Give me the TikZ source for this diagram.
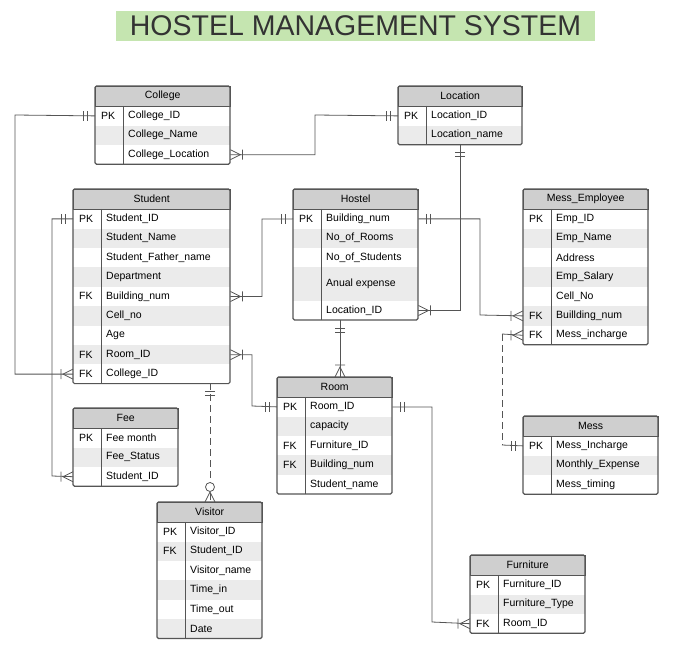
\documentclass[tikz,border=0pt]{standalone}
\usepackage{fontspec}
\setmainfont{Liberation Sans}
\usetikzlibrary{positioning}
\definecolor{headgray}{HTML}{CFCFCF}
\definecolor{rowgray}{HTML}{EBEBEB}
\definecolor{framegray}{HTML}{555555}
\definecolor{titlegreen}{HTML}{C5E5B0}
\tikzset{
  head/.style={draw=framegray,fill=headgray,anchor=north west,minimum height=20pt,inner sep=0pt,font=\fontsize{10.5}{12}\selectfont},
  cell/.style={anchor=north west,minimum height=19.4pt,inner sep=0pt},
  keytxt/.style={anchor=west,inner sep=0pt,font=\fontsize{10.5}{12}\selectfont},
  celltxt/.style={anchor=west,inner sep=0pt,font=\fontsize{10.5}{12}\selectfont},
  frame/.style={draw=framegray,line width=1.2pt,rounded corners=1.5pt},
  link/.style={draw=framegray,line width=0.8pt},
  longdash/.style={dash pattern=on 7pt off 4pt},
  one/.pic={\draw[link] (8,-5)--(8,5) (12,-5)--(12,5);},
  many/.pic={\draw[link] (0,-5)--(10,0)--(0,5) (12,-5)--(12,5);},
  zmany/.pic={\draw[link] (0,-5)--(10,0)--(0,5); \draw[link,fill=white] (15,0) circle (4.5);}
}
% name, x, y, width, title, number of rows, rows
\newcommand{\ertable}[7]{%
  \node[head,minimum width=#4] (#1) at (#2,#3) {#5};
  \foreach \k/\t [count=\i] in {#7} {
    \pgfmathsetmacro\yy{#3+20+(\i-1)*19.4}
    \pgfmathtruncatemacro\odd{mod(\i,2)}
    \ifnum\odd=0 \def\fc{rowgray}\else\def\fc{white}\fi
    \node[cell,fill=\fc,minimum width=#4] (#1-\i) at (#2,\yy) {};
    \node[keytxt] at (#2+6,\yy+9.7) {\k};
    \node[celltxt] at (#2+33,\yy+9.7) {\t};
  }
  \draw[framegray,thin] (#2+28,#3+20) -- ++(0,#6*19.4);
  \draw[frame] (#2,#3) rectangle (#2+#4,#3+20+#6*19.4);
  \draw[framegray] (#2,#3+20) -- (#2+#4,#3+20);
}
\begin{document}
\begin{tikzpicture}[x=1pt,y=-1pt]
\useasboundingbox (0,0) rectangle (680,652);
\node[fill=titlegreen,minimum width=479pt,minimum height=30pt,inner sep=0pt,
  font=\fontsize{28.5}{30}\selectfont,text=black!80] (title) at (355.5,26) {HOSTEL MANAGEMENT SYSTEM};

\ertable{college}{95}{86}{135}{College}{3}{PK/College\_ID,/College\_Name,/College\_Location}
\ertable{location}{398}{86}{124}{Location}{2}{PK/Location\_ID,/Location\_name}
\ertable{student}{73}{189}{157}{Student}{9}{PK/Student\_ID,/Student\_Name,/Student\_Father\_name,/Department,FK/Building\_num,/Cell\_no,/Age,FK/Room\_ID,FK/College\_ID}
\ertable{employee}{523}{189}{125}{Mess\_Employee}{7}{PK/Emp\_ID,/Emp\_Name,/Address,/Emp\_Salary,/Cell\_No,FK/Buillding\_num,FK/Mess\_incharge}
\ertable{room}{277}{377}{115}{Room}{5}{PK/Room\_ID,/capacity,FK/Furniture\_ID,FK/Building\_num,/Student\_name}
\ertable{fee}{73}{408}{105}{Fee}{3}{PK/Fee month,/Fee\_Status,/Student\_ID}
\ertable{visitor}{157}{502}{105}{Visitor}{6}{PK/Visitor\_ID,FK/Student\_ID,/Visitor\_name,/Time\_in,/Time\_out,/Date}
\ertable{mess}{523}{416}{135}{Mess}{3}{PK/Mess\_Incharge,/Monthly\_Expense,/Mess\_timing}
\ertable{furniture}{470}{555}{115}{Furniture}{3}{PK/Furniture\_ID,/Furniture\_Type,FK/Room\_ID}

% Hostel, with one tall row
\node[head,minimum width=125pt] (hostel) at (293,189) {Hostel};
\foreach \y/\h/\k/\t/\fc [count=\i] in {209/19.4/PK/Building\_num/white,228.4/19.4//No\_of\_Rooms/rowgray,
  247.8/19.4//No\_of\_Students/white,267.2/33.4//Anual expense/rowgray,300.6/19.4//Location\_ID/white} {
  \node[cell,fill=\fc,minimum width=125pt,minimum height=\h pt] (hostel-\i) at (293,\y) {};
  \node[keytxt] at (299,\y+\h/2) {\k};
  \node[celltxt] at (326,\y+\h/2) {\t};
}
\draw[framegray,thin] (321,209) -- (321,320);
\draw[frame] (293,189) rectangle (418,320);
\draw[framegray] (293,209) -- (418,209);

\coordinate (locbot) at (460,144);
\coordinate (hostbot) at (340,320);
\coordinate (roomtop) at (340,377);
\coordinate (studbot) at (210,383);
\coordinate (vistop) at (210,502);

% connectors
\draw[link] (college-1.west) -- (15,115) |- (student-9.west);
\pic[rotate=180] at (college-1.west) {one};
\pic[rotate=180] at (student-9.west) {many};
\draw[link] (college-3.east) -| (315,115) -- (location-1.west);
\pic at (college-3.east) {many};
\pic[rotate=180] at (location-1.west) {one};
\draw[link] (locbot) |- (hostel-5.east);
\pic[rotate=-90] at (locbot) {one};
\pic at (hostel-5.east) {many};
\draw[link] (student-5.east) -| (262,219) -- (hostel-1.west);
\pic at (student-5.east) {many};
\pic[rotate=180] at (hostel-1.west) {one};
\draw[link] (hostel-1.east) -| (480,315) -- (employee-6.west);
\pic at (hostel-1.east) {one};
\pic[rotate=180] at (employee-6.west) {many};
\draw[link] (hostbot) -- (roomtop);
\pic[rotate=-90] at (hostbot) {one};
\pic[rotate=90] at (roomtop) {many};
\draw[link] (student-8.east) -| (252,406) -- (room-1.west);
\pic at (student-8.east) {many};
\pic[rotate=180] at (room-1.west) {one};
\draw[link] (room-1.east) -| (432,622) -- (furniture-3.west);
\pic at (room-1.east) {one};
\pic[rotate=180] at (furniture-3.west) {many};
\draw[link] (student-1.west) -| (52,476) -- (fee-3.west);
\pic[rotate=180] at (student-1.west) {one};
\pic[rotate=180] at (fee-3.west) {many};
\draw[link,longdash] (studbot) -- (vistop);
\pic[rotate=-90] at (studbot) {one};
\pic[rotate=90] at (vistop) {zmany};
\draw[link] (employee-7.west) -- (502,334);
\draw[link,longdash] (502,334) -- (502,445);
\draw[link] (502,445) -- (mess-1.west);
\pic[rotate=180] at (employee-7.west) {many};
\pic[rotate=180] at (mess-1.west) {one};
\end{tikzpicture}
\end{document}
